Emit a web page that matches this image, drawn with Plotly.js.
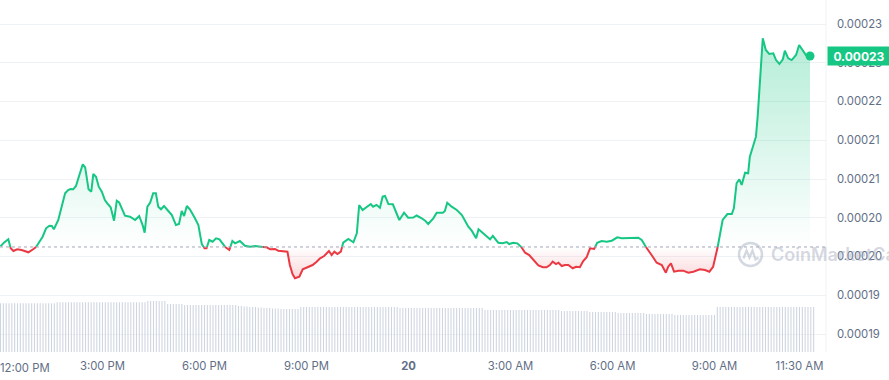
<!DOCTYPE html>
<html>
<head>
<meta charset="utf-8">
<script src="https://cdn.plot.ly/plotly-3.0.1.min.js"></script>
<style>html,body{margin:0;padding:0;background:#fff;}#chart{width:889px;height:380px;}</style>
</head>
<body>
<div id="chart"></div>
<script>
// ---- DATA ----
// hours after 12:00 PM (day 19)
const hours = [0,0.10,0.23,0.30,0.38,0.49,0.62,0.82,0.96,1.04,1.16,1.24,1.34,1.44,1.51,1.57,1.70,1.80,1.90,1.99,
2.06,2.14,2.22,2.32,2.42,2.49,2.55,2.59,2.67,2.73,2.81,2.89,2.98,3.07,3.14,3.24,3.34,3.42,3.49,3.59,
3.66,3.81,3.96,4.08,4.18,4.24,4.32,4.40,4.49,4.57,4.64,4.72,4.81,4.91,5.04,5.16,5.25,5.33,5.40,5.48,
5.57,5.72,5.82,5.92,6.00,6.06,6.14,6.24,6.34,6.44,6.60,6.73,6.82,6.90,7.04,7.19,7.34,7.49,7.63,7.83,
7.93,8.07,8.17,8.37,8.44,8.51,8.59,8.66,8.79,8.89,9.02,9.18,9.30,9.40,9.52,9.66,9.74,9.82,9.91,10.01,
10.08,10.23,10.38,10.48,10.55,10.65,10.77,10.89,10.96,11.06,11.16,11.24,11.31,11.41,11.54,11.63,11.73,11.87,11.99,12.14,
12.24,12.39,12.49,12.58,12.73,12.83,13.01,13.07,13.14,13.27,13.42,13.57,13.66,13.76,13.86,13.91,13.99,14.06,14.15,14.28,
14.40,14.48,14.57,14.64,14.77,14.89,14.96,15.08,15.20,15.30,15.43,15.55,15.67,15.82,15.95,16.06,16.16,16.24,16.34,16.41,
16.51,16.60,16.70,16.83,16.93,17.04,17.14,17.24,17.34,17.46,17.55,17.68,17.83,17.98,18.14,18.27,18.41,18.51,18.61,18.76,
18.86,18.99,19.15,19.30,19.45,19.57,19.64,19.72,19.81,19.94,20.08,20.23,20.38,20.57,20.72,20.85,20.96,21.06,21.14,21.24,
21.38,21.51,21.57,21.65,21.73,21.80,21.90,21.99,22.04,22.12,22.22,22.27,22.34,22.42,22.51,22.61,22.73,22.81,22.91,23.01,
23.07,23.17,23.27,23.40,23.49,23.60,23.69,23.81];

const price = [201.30e-6,201.78e-6,202.22e-6,201.06e-6,200.71e-6,200.93e-6,200.84e-6,200.54e-6,200.93e-6,201.19e-6,
202.04e-6,202.55e-6,203.64e-6,203.97e-6,203.94e-6,203.51e-6,204.71e-6,206.43e-6,208.15e-6,208.58e-6,
208.71e-6,208.67e-6,209.10e-6,210.52e-6,211.90e-6,211.51e-6,209.87e-6,208.67e-6,208.36e-6,210.65e-6,
210.30e-6,209.01e-6,208.36e-6,207.29e-6,206.86e-6,206.35e-6,204.62e-6,207.20e-6,206.99e-6,206.09e-6,
205.26e-6,205.14e-6,204.71e-6,205.23e-6,204.06e-6,203.07e-6,206.43e-6,206.94e-6,208.15e-6,208.15e-6,
206.43e-6,206.09e-6,206.52e-6,206.00e-6,205.35e-6,204.06e-6,204.19e-6,205.87e-6,205.23e-6,206.52e-6,
206.09e-6,204.93e-6,204.06e-6,201.61e-6,201.06e-6,201.06e-6,202.13e-6,201.91e-6,202.35e-6,202.22e-6,
201.26e-6,200.84e-6,202.00e-6,201.70e-6,202.00e-6,201.39e-6,201.26e-6,201.35e-6,201.26e-6,201.19e-6,
200.93e-6,200.97e-6,200.75e-6,200.71e-6,200.62e-6,198.90e-6,197.74e-6,197.19e-6,197.39e-6,198.35e-6,
198.61e-6,198.90e-6,199.33e-6,199.77e-6,200.06e-6,200.71e-6,200.19e-6,200.62e-6,200.32e-6,200.62e-6,
201.78e-6,202.26e-6,201.83e-6,202.99e-6,206.65e-6,206.00e-6,206.43e-6,206.77e-6,206.43e-6,206.65e-6,
206.30e-6,207.72e-6,207.81e-6,206.77e-6,206.74e-6,205.78e-6,204.71e-6,205.65e-6,205.01e-6,205.03e-6,
205.29e-6,204.93e-6,204.62e-6,204.19e-6,204.93e-6,205.65e-6,205.65e-6,205.87e-6,206.94e-6,206.43e-6,
206.00e-6,205.35e-6,204.71e-6,203.85e-6,203.33e-6,202.99e-6,202.35e-6,203.51e-6,203.20e-6,202.65e-6,
202.22e-6,202.65e-6,202.22e-6,201.78e-6,201.70e-6,201.87e-6,201.61e-6,201.78e-6,201.70e-6,201.35e-6,
200.49e-6,200.19e-6,199.55e-6,198.86e-6,198.61e-6,198.61e-6,198.90e-6,199.33e-6,199.03e-6,199.20e-6,
198.77e-6,198.90e-6,198.90e-6,198.48e-6,198.68e-6,198.61e-6,199.42e-6,199.90e-6,201.06e-6,200.97e-6,
201.78e-6,202.00e-6,201.91e-6,202.04e-6,202.48e-6,202.35e-6,202.35e-6,202.43e-6,202.35e-6,202.43e-6,
202.13e-6,201.19e-6,200.19e-6,199.20e-6,198.90e-6,197.91e-6,198.68e-6,199.12e-6,198.04e-6,198.17e-6,
198.17e-6,197.91e-6,198.04e-6,198.35e-6,198.26e-6,198.04e-6,198.68e-6,200.41e-6,202.35e-6,204.71e-6,
205.48e-6,205.48e-6,206.22e-6,209.45e-6,209.96e-6,209.23e-6,210.81e-6,210.74e-6,212.88e-6,213.96e-6,
215.46e-6,218.04e-6,222.77e-6,228.15e-6,226.65e-6,226.13e-6,226.22e-6,225.35e-6,224.84e-6,225.45e-6,
226.55e-6,225.57e-6,225.35e-6,226.00e-6,227.29e-6,226.65e-6,226.00e-6,225.87e-6];

const openPrice = 201.23e-6;

// 5-minute volume bars (relative units)
const volume = [
4.87,4.87,4.87,4.87,4.87,4.87,4.87,4.87,4.87,4.87,4.87,4.87,4.87,4.87,4.87,4.87,4.87,4.87,4.87,4.87,
4.97,4.97,4.97,4.97,4.97,4.97,4.97,4.97,4.97,4.97,4.97,4.97,4.97,4.97,4.97,4.97,4.97,4.97,4.97,4.97,
4.97,4.97,4.97,4.97,4.97,4.97,4.97,4.97,4.97,4.97,4.97,4.97,
5.10,5.10,5.10,5.10,5.10,5.10,5.10,
4.80,4.80,4.80,4.80,4.80,4.80,
4.70,4.70,4.70,4.70,4.70,4.70,4.70,4.70,4.70,4.70,4.70,4.70,4.70,4.70,4.70,4.70,4.70,4.70,4.70,
4.60,4.60,4.55,4.55,4.50,4.50,4.50,4.45,4.45,4.40,4.40,4.40,4.35,4.35,4.35,4.30,4.30,4.30,4.30,4.30,4.30,4.30,
4.50,4.50,4.50,4.50,4.50,4.50,4.50,4.50,4.50,4.50,4.50,4.50,4.50,4.50,4.50,4.50,4.50,4.50,4.50,4.50,
4.50,4.50,4.50,4.50,4.50,4.50,4.50,4.50,4.50,4.50,4.50,4.50,4.50,4.50,4.50,
4.40,4.40,4.40,4.40,4.40,4.40,4.40,4.40,4.40,4.40,4.40,4.40,4.40,4.40,4.40,4.40,4.40,4.40,4.40,4.40,
4.40,4.40,4.40,4.40,4.40,4.40,4.40,4.40,4.40,4.40,
4.20,4.20,4.20,4.20,4.20,4.20,4.20,4.20,4.20,4.20,4.20,4.20,4.20,4.20,4.20,4.20,4.20,4.20,4.20,4.20,
4.20,4.20,4.20,4.20,4.20,4.20,4.20,
4.10,4.10,4.10,4.10,4.10,4.10,4.10,4.10,4.10,4.10,
4.00,4.00,4.00,4.00,4.00,4.00,4.00,4.00,4.00,4.00,
3.90,3.90,3.90,3.90,3.90,3.90,3.90,3.90,3.90,3.90,
3.80,3.80,3.80,3.80,3.80,3.80,3.80,3.80,3.80,3.80,
3.70,3.70,3.70,3.70,3.70,3.70,3.70,3.70,3.70,3.70,3.70,3.70,3.70,3.70,3.70,
4.50,4.50,4.50,4.50,4.50,4.50,4.50,4.50,4.50,4.50,4.50,4.50,4.50,4.50,4.50,4.50,4.50,4.50,4.50,4.50,
4.50,4.50,4.50,4.50,4.50,4.50,4.50,4.50,4.50,4.50,4.50,4.50,4.50,4.50,4.50];

const xTickHours = [3, 6, 9, 12, 15, 18, 21, 23.5];
const xTickText = ['3:00 PM', '6:00 PM', '9:00 PM', '<b>20</b>', '3:00 AM', '6:00 AM', '9:00 AM', '11:30 AM'];
const firstTickText = '12:00 PM';
const yTickVals = [190e-6, 195e-6, 200e-6, 205e-6, 210e-6, 215e-6, 220e-6, 225e-6, 230e-6];
const yTickText = ['0.00019', '0.00019', '0.00020', '0.00020', '0.00021', '0.00021', '0.00022', '0.00023', '0.00023'];

if (hours.length !== price.length) throw new Error('length mismatch ' + hours.length + ' vs ' + price.length);

// ---- BUILD ----
const GREEN = '#16c784', RED = '#ea3943';
const LABEL = '#616e85';
const FS = 11.3;
const xs = [], ys = [];
for (let i = 0; i < price.length; i++) {
  if (i > 0) {
    const a = price[i - 1] - openPrice, b = price[i] - openPrice;
    if (a * b < 0) {
      const t = a / (a - b);
      xs.push(hours[i - 1] + t * (hours[i] - hours[i - 1]));
      ys.push(openPrice);
    }
  }
  xs.push(hours[i]); ys.push(price[i]);
}
const baseArr = xs.map(() => openPrice);
const upper = ys.map(v => Math.max(v, openPrice));
const lower = ys.map(v => Math.min(v, openPrice));
const greenLine = ys.map(v => (v >= openPrice ? v : null));
const redLine = ys.map(v => (v <= openPrice ? v : null));
const maxP = Math.max(...price), minP = Math.min(...price);
const barHours = volume.map((_, i) => i / 12);
const last = price.length - 1;

const traces = [
  {x: xs, y: baseArr, mode: 'lines', line: {width: 0, color: 'rgba(0,0,0,0)'}, hoverinfo: 'skip'},
  {x: xs, y: upper, mode: 'lines', line: {width: 0, color: 'rgba(0,0,0,0)'}, fill: 'tonexty',
   fillcolor: 'rgba(22,199,132,0.12)',
   fillgradient: {type: 'vertical', start: openPrice, stop: maxP,
     colorscale: [[0, 'rgba(22,199,132,0)'], [1, 'rgba(22,199,132,0.32)']]}, hoverinfo: 'skip'},
  {x: xs, y: baseArr, mode: 'lines', line: {width: 0, color: 'rgba(0,0,0,0)'}, hoverinfo: 'skip'},
  {x: xs, y: lower, mode: 'lines', line: {width: 0, color: 'rgba(0,0,0,0)'}, fill: 'tonexty',
   fillcolor: 'rgba(234,57,67,0.08)',
   fillgradient: {type: 'vertical', start: minP, stop: openPrice,
     colorscale: [[0, 'rgba(234,57,67,0.2)'], [1, 'rgba(234,57,67,0)']]}, hoverinfo: 'skip'},
  {x: xs, y: greenLine, mode: 'lines', line: {color: GREEN, width: 2}, connectgaps: false},
  {x: xs, y: redLine, mode: 'lines', line: {color: RED, width: 2}, connectgaps: false},
  {x: [hours[last]], y: [price[last]], mode: 'markers', marker: {color: GREEN, size: 9}},
  {type: 'bar', x: barHours, y: volume, yaxis: 'y2', width: 0.032,
   marker: {color: '#cfd5e0', line: {width: 0}}}
];

const PX_W = 826, PX_H = 352;
const layout = {
  width: 889, height: 380,
  margin: {l: 0, r: 63, t: 0, b: 28, pad: 0},
  paper_bgcolor: '#ffffff', plot_bgcolor: '#ffffff',
  showlegend: false,
  font: {family: 'Inter, "Noto Sans", sans-serif', size: FS, color: LABEL},
  xaxis: {range: [-0.0147, 24.28], tickvals: xTickHours, ticktext: xTickText,
    showgrid: false, zeroline: false, showline: false, ticks: '', ticklabelstandoff: 6,
    tickfont: {size: FS, color: LABEL}},
  yaxis: {side: 'right', range: [187.677e-6, 233.097e-6], tickvals: yTickVals, ticktext: yTickText,
    showgrid: true, gridcolor: '#eff2f5', gridwidth: 1, zeroline: false, showline: false,
    ticks: '', ticklabelstandoff: 10, tickfont: {size: FS, color: LABEL}},
  yaxis2: {overlaying: 'y', range: [0, 35.2], visible: false, showgrid: false, zeroline: false},
  shapes: [
    {type: 'line', xref: 'paper', yref: 'paper', x0: 1, x1: 1, y0: 0, y1: 1, line: {color: '#eff2f5', width: 1}},
    {type: 'line', xref: 'paper', yref: 'y', x0: 0, x1: 1, y0: openPrice, y1: openPrice,
     line: {color: '#a1a7bb', width: 1, dash: 'dot'}},
    {type: 'circle', xref: 'paper', yref: 'paper', x0: 739 / PX_W, x1: 762 / PX_W,
     y0: (PX_H - 266) / PX_H, y1: (PX_H - 243) / PX_H, line: {color: 'rgba(160,168,188,0.45)', width: 2.5}},
    {type: 'path', xref: 'paper', yref: 'paper', xsizemode: 'pixel', ysizemode: 'pixel',
     xanchor: 750.5 / PX_W, yanchor: (PX_H - 254.5) / PX_H,
     path: 'M -7,-4 L -4,4 L -1,-3 L 2,4 L 5,-5 L 8,-3', line: {color: 'rgba(160,168,188,0.45)', width: 2.3}}
  ],
  annotations: [
    {xref: 'paper', yref: 'paper', x: 0, y: 0, xanchor: 'left', yanchor: 'middle', yshift: -16, xshift: -2,
     text: firstTickText, showarrow: false, font: {size: FS, color: LABEL}},
    {xref: 'paper', yref: 'y', x: 1, y: price[last], xanchor: 'left', yanchor: 'middle', xshift: 1,
     text: '<b>' + price[last].toFixed(5) + '</b>', showarrow: false, bgcolor: GREEN,
     width: 58, height: 14, borderpad: 2, font: {color: '#ffffff', size: 12}},
    {xref: 'paper', yref: 'paper', x: 769 / PX_W, y: (PX_H - 255) / PX_H, xanchor: 'left', yanchor: 'middle',
     text: 'CoinMarketCap', showarrow: false, font: {size: 18, weight: 600, color: 'rgba(160,168,188,0.45)'}}
  ]
};

Plotly.newPlot('chart', traces, layout, {displayModeBar: false, staticPlot: true});
</script>
</body>
</html>
